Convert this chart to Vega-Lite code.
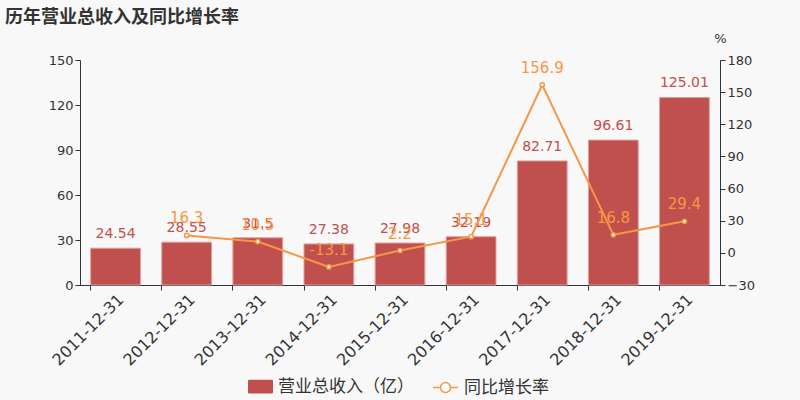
{
  "$schema": "https://vega.github.io/schema/vega-lite/v6.json",
  "autosize": {"type": "none"},
  "padding": {"left": 80, "top": 60, "right": 80, "bottom": 115},
  "width": 640,
  "height": 225,
  "background": "#f8f8f8",
  "title": {
    "text": "历年营业总收入及同比增长率",
    "anchor": "start",
    "frame": "group",
    "dx": -75,
    "offset": 5,
    "fontSize": 18,
    "fontWeight": "bold",
    "font": "Noto Sans CJK SC",
    "color": "#333333"
  },
  "config": {
    "view": {"stroke": null},
    "axis": {
      "labelFont": "DejaVu Sans",
      "labelColor": "#333333",
      "domainColor": "#333333",
      "tickColor": "#333333",
      "grid": false,
      "labelFontSize": 13,
      "labelOverlap": false
    }
  },
  "data": {
    "values": [
      {"date": "2011-12-31", "revenue": 24.54, "growth": null},
      {"date": "2012-12-31", "revenue": 28.55, "growth": 16.3},
      {"date": "2013-12-31", "revenue": 31.5, "growth": 10.5},
      {"date": "2014-12-31", "revenue": 27.38, "growth": -13.1},
      {"date": "2015-12-31", "revenue": 27.98, "growth": 2.2},
      {"date": "2016-12-31", "revenue": 32.19, "growth": 15.1},
      {"date": "2017-12-31", "revenue": 82.71, "growth": 156.9},
      {"date": "2018-12-31", "revenue": 96.61, "growth": 16.8},
      {"date": "2019-12-31", "revenue": 125.01, "growth": 29.4}
    ]
  },
  "encoding": {
    "x": {
      "field": "date",
      "type": "nominal",
      "sort": null,
      "scale": {"paddingInner": 0.3, "paddingOuter": 0.15},
      "axis": {"title": null, "orient": "bottom", "labelAngle": -45, "labelFontSize": 16, "ticks": false, "labelPadding": 6}
    }
  },
  "layer": [
    {
      "encoding": {
        "y": {
          "field": "revenue",
          "type": "quantitative",
          "scale": {"domain": [0, 150], "nice": false},
          "axis": {"title": null, "values": [0, 30, 60, 90, 120, 150], "tickSize": 5}
        }
      },
      "layer": [
        {
          "mark": {"type": "bar", "stroke": "#e0a09e", "strokeWidth": 1},
          "encoding": {
            "fill": {
              "datum": "营业总收入（亿）",
              "type": "nominal",
              "scale": {"range": ["#c0504d"]},
              "legend": {
                "title": null,
                "orient": "none",
                "legendX": 168,
                "legendY": 314,
                "labelFont": "Noto Sans CJK SC",
                "labelFontSize": 17,
                "labelColor": "#333333",
                "symbolSize": 625,
                "labelOffset": 5,
                "symbolStrokeWidth": 0,
                "symbolOpacity": 1,
                "symbolType": "M-0.9,-0.55L0.9,-0.55Q1,-0.55,1,-0.45L1,0.45Q1,0.55,0.9,0.55L-0.9,0.55Q-1,0.55,-1,0.45L-1,-0.45Q-1,-0.55,-0.9,-0.55Z"
              }
            }
          }
        },
        {
          "mark": {"type": "text", "dy": -7, "baseline": "bottom", "fontSize": 14, "font": "DejaVu Sans", "color": "#c0504d"},
          "encoding": {
            "text": {"field": "revenue", "type": "nominal"}
          }
        }
      ]
    },
    {
      "encoding": {
        "y": {
          "field": "growth",
          "type": "quantitative",
          "scale": {"domain": [-30, 180], "nice": false},
          "axis": {
            "title": "%",
            "orient": "right",
            "values": [-30, 0, 30, 60, 90, 120, 150, 180],
            "tickSize": 5,
            "titleAngle": 0,
            "titleX": 0,
            "titleY": -15,
            "titleAlign": "center",
            "titleBaseline": "bottom",
            "titleFontSize": 13,
            "titleFontWeight": "normal",
            "titleColor": "#333333",
            "titleFont": "DejaVu Sans"
          }
        }
      },
      "layer": [
        {
          "mark": {"type": "rule", "opacity": 0},
          "encoding": {
            "x": {
              "field": "date",
              "type": "nominal",
              "sort": null,
              "axis": {"title": null, "orient": "bottom", "labels": false, "ticks": true, "bandPosition": 0, "tickSize": 5, "domain": true}
            }
          }
        },
        {
          "mark": {"type": "line", "strokeWidth": 2},
          "encoding": {
            "stroke": {
              "datum": "同比增长率",
              "type": "nominal",
              "scale": {"range": ["#f79646"]},
              "legend": {
                "title": null,
                "orient": "none",
                "legendX": 352,
                "legendY": 314,
                "labelFont": "Noto Sans CJK SC",
                "labelFontSize": 17,
                "labelColor": "#333333",
                "symbolSize": 625,
                "labelOffset": 5,
                "symbolStrokeWidth": 1.5,
                "symbolFillColor": "#ffffff",
                "symbolOpacity": 1,
                "symbolType": "M-1,0L-0.4,0M0.4,0L1,0M-0.4,0A0.4,0.4,0,1,1,0.4,0A0.4,0.4,0,1,1,-0.4,0"
              }
            }
          }
        },
        {
          "mark": {"type": "point", "filled": true, "fill": "#ffffff", "stroke": "#f79646", "strokeWidth": 1.5, "size": 18, "opacity": 1}
        },
        {
          "mark": {"type": "text", "dy": -9, "baseline": "bottom", "fontSize": 15, "font": "DejaVu Sans", "color": "#f79646"},
          "encoding": {
            "text": {"field": "growth", "type": "nominal"}
          }
        }
      ]
    }
  ],
  "resolve": {"scale": {"y": "independent"}, "axis": {"x": "independent"}}
}
